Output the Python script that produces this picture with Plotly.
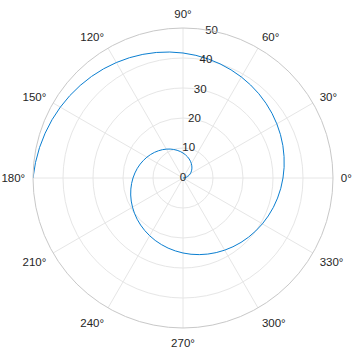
import plotly.graph_objects as go

theta_deg = [0, 6, 12, 18, 24, 30, 36, 42, 48, 54, 60, 66, 72, 78, 84, 90, 96, 102, 108, 114,
             120, 126, 132, 138, 144, 150, 156, 162, 168, 174, 180, 186, 192, 198, 204, 210,
             216, 222, 228, 234, 240, 246, 252, 258, 264, 270, 276, 282, 288, 294, 300, 306,
             312, 318, 324, 330, 336, 342, 348, 354, 360, 366, 372, 378, 384, 390, 396, 402,
             408, 414, 420, 426, 432, 438, 444, 450, 456, 462, 468, 474, 480, 486, 492, 498,
             504, 510, 516, 522, 528, 534, 540]
r_vals = [0, 0.56, 1.11, 1.67, 2.22, 2.78, 3.33, 3.89, 4.44,
          5, 5.56, 6.11, 6.67, 7.22, 7.78, 8.33, 8.89, 9.44,
          10, 10.56, 11.11, 11.67, 12.22, 12.78, 13.33, 13.89, 14.44,
          15, 15.56, 16.11, 16.67, 17.22, 17.78, 18.33, 18.89, 19.44,
          20, 20.56, 21.11, 21.67, 22.22, 22.78, 23.33, 23.89, 24.44,
          25, 25.56, 26.11, 26.67, 27.22, 27.78, 28.33, 28.89, 29.44,
          30, 30.56, 31.11, 31.67, 32.22, 32.78, 33.33, 33.89, 34.44,
          35, 35.56, 36.11, 36.67, 37.22, 37.78, 38.33, 38.89, 39.44,
          40, 40.56, 41.11, 41.67, 42.22, 42.78, 43.33, 43.89, 44.44,
          45, 45.56, 46.11, 46.67, 47.22, 47.78, 48.33, 48.89, 49.44,
          50]
r_ticks = [0, 10, 20, 30, 40, 50]
r_tick_labels = ["0", "10", "20", "30", "40", "50"]
angle_ticks = [0, 30, 60, 90, 120, 150, 180, 210, 240, 270, 300, 330]
angle_labels = ["0°", "30°", "60°", "90°", "120°", "150°", "180°", "210°",
                "240°", "270°", "300°", "330°"]
r_label_angle = 79

FONT = "Liberation Sans, Arial"

fig = go.Figure()
fig.add_trace(go.Scatterpolar(
    r=r_vals, theta=theta_deg, mode="lines",
    line=dict(color="#0a7ed0", width=1),
    hoverinfo="skip", showlegend=False,
))
fig.add_trace(go.Scatterpolar(
    r=r_ticks, theta=[r_label_angle] * len(r_ticks), mode="text",
    text=r_tick_labels, textposition="middle center",
    textfont=dict(family=FONT, size=11.5, color="#262626"),
    hoverinfo="skip", showlegend=False, cliponaxis=False,
))

fig.update_layout(
    width=361, height=350,
    margin=dict(l=0, r=0, t=0, b=0),
    paper_bgcolor="white",
    font=dict(family=FONT, size=11.5, color="#262626"),
    polar=dict(
        domain=dict(x=[33/361, 333/361], y=[22/350, 322/350]),
        bgcolor="white",
        radialaxis=dict(
            range=[0, 50], tickvals=r_ticks, angle=80, showticklabels=False,
            showline=False, ticks="", gridcolor="#e6e6e6", gridwidth=1,
        ),
        angularaxis=dict(
            tickvals=angle_ticks, ticktext=angle_labels, direction="counterclockwise",
            rotation=0, ticks="outside", ticklen=5, tickcolor="rgba(0,0,0,0)",
            showline=True, linecolor="#c8c8c8", linewidth=1,
            gridcolor="#e6e6e6", gridwidth=1,
            tickfont=dict(family=FONT, size=11.5, color="#262626"),
        ),
    ),
)

fig.write_html("out.html")
